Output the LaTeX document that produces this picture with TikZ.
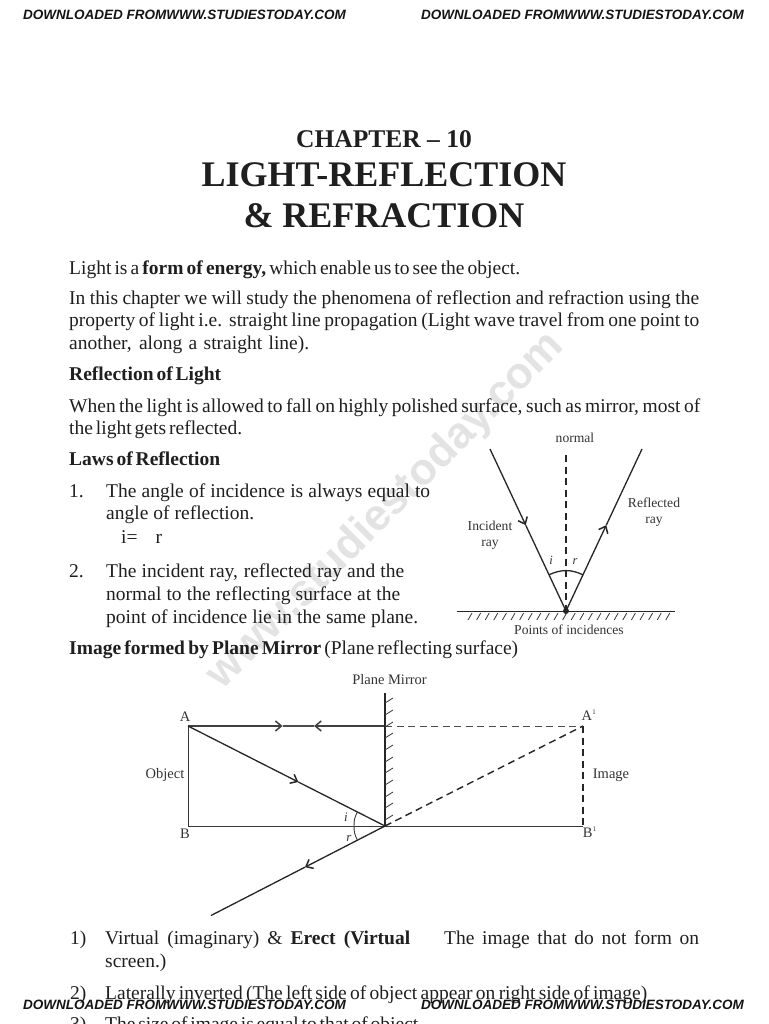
\documentclass[tikz,border=0pt]{standalone}
\usepackage{fontspec}
\setmainfont{Liberation Serif}
\setsansfont{Liberation Sans}
\newfontfamily\bodyfont[WordSpace=0.6]{Liberation Serif}
\usetikzlibrary{arrows.meta,calc}
\def\fitline#1#2{\makebox[#1][s]{#2}}
\tikzset{
	bodytext/.style={anchor=base west, inner sep=0, text=black!88, font=\fontsize{19.5}{21}\bodyfont},
	headtext/.style={anchor=base, inner sep=0, text=black!88, font=\bfseries},
	stamptext/.style={anchor=base west, inner sep=0, text=black!92, font=\fontsize{13.5}{15}\sffamily\bfseries\itshape},
	smalltext/.style={anchor=base, inner sep=0, text=black!80, font=\fontsize{13.6}{15}\selectfont},
	mirrortext/.style={anchor=base, inner sep=0, text=black!80, font=\fontsize{14.5}{16}\selectfont},
	raypath/.style={line width=1.3pt, color=black!85},
	arrowpath/.style={line width=1.3pt, color=black!85, -{Straight Barb[length=6pt, width=10pt, line width=1.5pt]}},
	toppath/.style={line width=1.1pt, color=black!70},
	toparrow/.style={line width=1.1pt, color=black!75, -{Straight Barb[length=6pt, width=10pt, line width=1.5pt]}},
	thinpath/.style={line width=0.9pt, color=black!78},
	dashpath/.style={line width=1.4pt, color=black!85, dash pattern=on 7pt off 4.5pt},
	topdash/.style={line width=1pt, color=black!70, dash pattern=on 7pt off 4.5pt},
	hatchline/.style={line width=0.8pt, color=black!78}
}

\begin{document}
\begin{tikzpicture}[x=1pt, y=-1pt]
			%%%%% START %%%%%
			
			\useasboundingbox (0, 0) rectangle (768, 1024);
			\fill[white] (0, 0) rectangle (768, 1024);
			
			\node[rotate=45, inner sep=0, text=black!11, font=\fontsize{44}{48}\sffamily\bfseries] (watermark) at (386, 511) {www.studiestoday.com};
			
			\node[stamptext] (stamptopleft) at (23, 20) {DOWNLOADED FROMWWW.STUDIESTODAY.COM};
			\node[stamptext] (stamptopright) at (421, 20) {DOWNLOADED FROMWWW.STUDIESTODAY.COM};
			
			\node[headtext, font=\fontsize{25.5}{28}\bfseries] (chapter) at (384, 148) {CHAPTER -- 10};
			\node[headtext, font=\fontsize{36}{38}\bfseries] (titleone) at (384, 187) {LIGHT-REFLECTION};
			\node[headtext, font=\fontsize{36}{38}\bfseries] (titletwo) at (384, 228) {\& REFRACTION};
			
			\node[bodytext] (intro) at (69, 274) {\fitline{451pt}{Light is a \textbf{form of energy,} which enable us to see the object.}};
			\node[bodytext] (parone) at (69, 304) {\fitline{630pt}{In this chapter we will study the phenomena of reflection and refraction using the}};
			\node[bodytext] (partwo) at (69, 326) {\fitline{630pt}{property of light i.e. straight line propagation (Light wave travel from one point to}};
			\node[bodytext] (parthree) at (69, 349) {\fitline{240pt}{another, along a straight line).}};
			\node[bodytext] (reflhead) at (69, 380) {\fitline{152pt}{\textbf{Reflection of Light}}};
			\node[bodytext] (whenone) at (69, 412) {\fitline{631pt}{When the light is allowed to fall on highly polished surface, such as mirror, most of}};
			\node[bodytext] (whentwo) at (69, 434) {\fitline{173pt}{the light gets reflected.}};
			\node[bodytext] (lawhead) at (69, 465) {\fitline{151pt}{\textbf{Laws of Reflection}}};
			
			\node[bodytext] (numone) at (69, 497) {1.};
			\node[bodytext] (lawone) at (106, 497) {\fitline{324pt}{The angle of incidence is always equal to}};
			\node[bodytext] (lawtwo) at (106, 519) {\fitline{148pt}{angle of reflection.}};
			\node[bodytext] (lawthree) at (121, 543) {i=\hspace{18pt}r};
			\node[bodytext] (numtwo) at (69, 577) {2.};
			\node[bodytext] (lawfour) at (106, 577) {\fitline{298pt}{The incident ray, reflected ray and the}};
			\node[bodytext] (lawfive) at (106, 600) {\fitline{294pt}{normal to the reflecting surface at the}};
			\node[bodytext] (lawsix) at (106, 623) {\fitline{312pt}{point of incidence lie in the same plane.}};
			\node[bodytext] (imagehead) at (69, 654) {\fitline{449pt}{\textbf{Image formed by Plane Mirror} (Plane reflecting surface)}};
			
			% first figure, the laws
			\coordinate (incpoint) at (566, 611);
			\coordinate (incstart) at (490, 449);
			\coordinate (reflend) at (642, 449);
			\coordinate (normaltop) at (566, 455);
			\coordinate (surfleft) at (457, 611.5);
			\coordinate (surfright) at (675, 611.5);
			\coordinate (incmid) at ($(incstart)!0.47!(incpoint)$);
			\coordinate (reflmid) at ($(incpoint)!0.53!(reflend)$);
			\coordinate (incarc) at ($(incpoint)!40pt!(incstart)$);
			\coordinate (reflarc) at ($(incpoint)!40pt!(reflend)$);
			
			\draw[raypath] (surfleft) -- (surfright);
			\draw[arrowpath] (incstart) -- (incmid);
			\draw[raypath] (incmid) -- (incpoint);
			\draw[arrowpath] (incpoint) -- (reflmid);
			\draw[raypath] (reflmid) -- (reflend);
			\draw[dashpath] (normaltop) -- (incpoint);
			\draw[raypath] (incarc) to[bend left=25] (reflarc);
			\fill[black!85] (incpoint) circle (3);
			
			\draw[hatchline] (472, 613) -- (468, 620);
			\draw[hatchline] (480.6, 613) -- (476.6, 620);
			\draw[hatchline] (489.2, 613) -- (485.2, 620);
			\draw[hatchline] (497.8, 613) -- (493.8, 620);
			\draw[hatchline] (506.4, 613) -- (502.4, 620);
			\draw[hatchline] (515, 613) -- (511, 620);
			\draw[hatchline] (523.6, 613) -- (519.6, 620);
			\draw[hatchline] (532.2, 613) -- (528.2, 620);
			\draw[hatchline] (540.8, 613) -- (536.8, 620);
			\draw[hatchline] (549.4, 613) -- (545.4, 620);
			\draw[hatchline] (558, 613) -- (554, 620);
			\draw[hatchline] (566.6, 613) -- (562.6, 620);
			\draw[hatchline] (575.2, 613) -- (571.2, 620);
			\draw[hatchline] (583.8, 613) -- (579.8, 620);
			\draw[hatchline] (592.4, 613) -- (588.4, 620);
			\draw[hatchline] (601, 613) -- (597, 620);
			\draw[hatchline] (609.6, 613) -- (605.6, 620);
			\draw[hatchline] (618.2, 613) -- (614.2, 620);
			\draw[hatchline] (626.8, 613) -- (622.8, 620);
			\draw[hatchline] (635.4, 613) -- (631.4, 620);
			\draw[hatchline] (644, 613) -- (640, 620);
			\draw[hatchline] (652.6, 613) -- (648.6, 620);
			\draw[hatchline] (661.2, 613) -- (657.2, 620);
			\draw[hatchline] (669.8, 613) -- (665.8, 620);
			
			\node[smalltext] (normallabel) at (575, 442) {normal};
			\node[smalltext] (reflone) at (654, 507) {Reflected};
			\node[smalltext] (refltwo) at (654, 523) {ray};
			\node[smalltext] (incone) at (490, 530) {Incident};
			\node[smalltext] (inctwo) at (490, 546) {ray};
			\node[smalltext, font=\fontsize{12.5}{14}\itshape] (anglei) at (551, 564) {i};
			\node[smalltext, font=\fontsize{12.5}{14}\itshape] (angler) at (575, 564) {r};
			\node[smalltext] (pointslabel) at (569, 634) {Points of incidences};
			
			% second figure, the plane mirror
			\coordinate (objtop) at (188, 726);
			\coordinate (objbase) at (188, 826);
			\coordinate (mirrortop) at (385, 693);
			\coordinate (mirrorbase) at (385, 826);
			\coordinate (mirrormid) at (385, 726);
			\coordinate (imgtop) at (583, 726);
			\coordinate (imgbase) at (583, 826);
			\coordinate (rayend) at (211, 915.5);
			\coordinate (topright) at ($(objtop)!0.48!(mirrormid)$);
			\coordinate (topleft) at ($(mirrormid)!0.36!(objtop)$);
			\coordinate (diagmid) at ($(objtop)!0.56!(mirrorbase)$);
			\coordinate (lowermid) at ($(mirrorbase)!0.46!(rayend)$);
			\coordinate (iarc) at ($(mirrorbase)!31pt!(objtop)$);
			\coordinate (axisarc) at ($(mirrorbase)!31pt!(objbase)$);
			\coordinate (rarc) at ($(mirrorbase)!31pt!(rayend)$);
			
			\draw[thinpath] (objtop) -- (objbase);
			\draw[thinpath] (objbase) -- (imgbase);
			\draw[toparrow] (objtop) -- (topright);
			\draw[toparrow] (mirrormid) -- (topleft);
			\draw[toppath] (topright) -- (topleft);
			\draw[arrowpath] (objtop) -- (diagmid);
			\draw[raypath] (diagmid) -- (mirrorbase);
			\draw[arrowpath] (mirrorbase) -- (lowermid);
			\draw[raypath] (lowermid) -- (rayend);
			\draw[raypath] (mirrortop) -- (mirrorbase);
			\draw[topdash] (mirrormid) -- (imgtop);
			\draw[dashpath] (mirrorbase) -- (imgtop);
			\draw[dashpath] (imgtop) -- (imgbase);
			\draw[thinpath] (iarc) to[bend right=14] (axisarc);
			\draw[thinpath] (axisarc) to[bend right=14] (rarc);
			
			\draw[hatchline] (385, 703) -- (393, 698);
			\draw[hatchline] (385, 715) -- (393, 710);
			\draw[hatchline] (385, 727) -- (393, 722);
			\draw[hatchline] (385, 738) -- (393, 733);
			\draw[hatchline] (385, 750) -- (393, 745);
			\draw[hatchline] (385, 762) -- (393, 757);
			\draw[hatchline] (385, 773) -- (393, 768);
			\draw[hatchline] (385, 785) -- (393, 780);
			\draw[hatchline] (385, 797) -- (393, 792);
			\draw[hatchline] (385, 808) -- (393, 803);
			\draw[hatchline] (385, 820) -- (393, 815);
			
			\node[mirrortext] (mirrorlabel) at (389.5, 684) {Plane Mirror};
			\node[mirrortext] (labela) at (185, 721) {A};
			\node[mirrortext] (labelaprime) at (589, 720) {A$^{\scriptscriptstyle 1}$};
			\node[mirrortext] (labelb) at (185, 838) {B};
			\node[mirrortext] (labelbprime) at (590, 837) {B$^{\scriptscriptstyle 1}$};
			\node[mirrortext] (objectlabel) at (165, 778) {Object};
			\node[mirrortext] (imagelabel) at (611, 778) {Image};
			\node[mirrortext, font=\fontsize{13}{15}\itshape] (mirrori) at (346, 821) {i};
			\node[mirrortext, font=\fontsize{13}{15}\itshape] (mirrorr) at (349, 841) {r};
			
			\node[bodytext] (itemone) at (70, 944) {1)};
			\node[bodytext] (virtual) at (105, 944) {\fitline{305pt}{Virtual (imaginary) \& \textbf{Erect (Virtual}}};
			\node[bodytext] (virtualtwo) at (444, 944) {\fitline{255pt}{The image that do not form on}};
			\node[bodytext] (virtualthree) at (105, 967) {screen.)};
			\node[bodytext] (itemtwo) at (70, 999) {2)};
			\node[bodytext] (lateral) at (105, 999) {\fitline{542pt}{Laterally inverted (The left side of object appear on right side of image)}};
			\node[bodytext] (itemthree) at (70, 1030) {3)};
			\node[bodytext] (sizeline) at (105, 1030) {\fitline{318pt}{The size of image is equal to that of object.}};
			
			\node[stamptext] (stampbotleft) at (23, 1009) {DOWNLOADED FROMWWW.STUDIESTODAY.COM};
			\node[stamptext] (stampbotright) at (421, 1009) {DOWNLOADED FROMWWW.STUDIESTODAY.COM};
			
			%%%%% END %%%%%
		\end{tikzpicture}
\end{document}
